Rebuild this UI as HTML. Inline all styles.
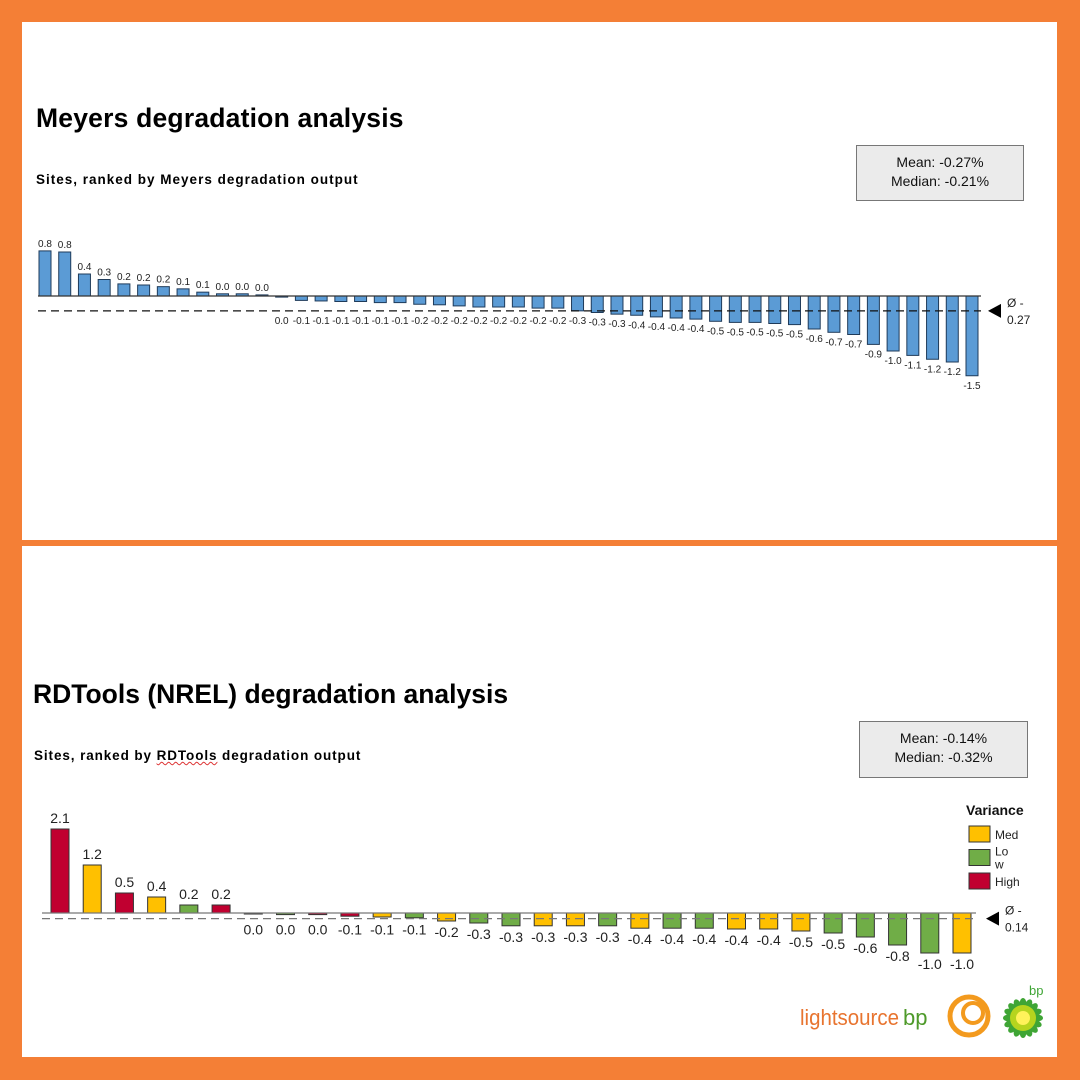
<!DOCTYPE html>
<html><head><meta charset="utf-8">
<style>
body{margin:0;background:#F47F36;font-family:"Liberation Sans",sans-serif;}
#wrap{position:relative;width:1080px;height:1080px;background:#F47F36;overflow:hidden}
.panel{position:absolute;left:22px;width:1035px;background:#fff}
.title{position:absolute;font-weight:bold;color:#000;font-size:26.5px;white-space:nowrap}
.sub{position:absolute;font-weight:bold;color:#000;font-size:13.5px;white-space:nowrap}
.stat{position:absolute;background:#ebebeb;border:1px solid #777;font-size:14px;text-align:center;line-height:19px;color:#111;box-sizing:border-box;padding-top:7px}
svg{position:absolute;left:0;top:0}
</style></head>
<body>
<div id="wrap">
<div class="panel" style="top:22px;height:518px"></div>
<div class="panel" style="top:546px;height:511px"></div>
<div class="title" style="left:36px;top:103px;letter-spacing:0.2px">Meyers degradation analysis</div>
<div class="sub" style="left:36px;top:172px;letter-spacing:1px">Sites, ranked by Meyers degradation output</div>
<div class="stat" style="left:856px;top:145px;width:168px;height:56px">Mean: -0.27%<br>Median: -0.21%</div>
<div class="title" style="left:33px;top:679px;letter-spacing:0px">RDTools (NREL) degradation analysis</div>
<div class="sub" style="left:34px;top:748px;letter-spacing:0.9px">Sites, ranked by <span style="text-decoration:underline wavy #d33;text-decoration-thickness:1px">RDTools</span> degradation output</div>
<div class="stat" style="left:859px;top:721px;width:169px;height:57px">Mean: -0.14%<br>Median: -0.32%</div>
<svg id="chart" width="1080" height="1080"></svg>
</div>
<script>
const topValues=[0.82,0.80,0.40,0.30,0.22,0.20,0.17,0.13,0.07,0.04,0.04,0.02,-0.02,-0.08,-0.09,-0.10,-0.10,-0.12,-0.12,-0.15,-0.16,-0.18,-0.2,-0.2,-0.2,-0.22,-0.22,-0.27,-0.3,-0.33,-0.35,-0.38,-0.4,-0.42,-0.46,-0.48,-0.48,-0.5,-0.52,-0.6,-0.66,-0.7,-0.88,-1.0,-1.08,-1.15,-1.2,-1.45];
const topLabels=["0.8","0.8","0.4","0.3","0.2","0.2","0.2","0.1","0.1","0.0","0.0","0.0","0.0","-0.1","-0.1","-0.1","-0.1","-0.1","-0.1","-0.2","-0.2","-0.2","-0.2","-0.2","-0.2","-0.2","-0.2","-0.3","-0.3","-0.3","-0.4","-0.4","-0.4","-0.4","-0.5","-0.5","-0.5","-0.5","-0.5","-0.6","-0.7","-0.7","-0.9","-1.0","-1.1","-1.2","-1.2","-1.5"];
const topMean=-0.27;
const botValues=[2.1,1.2,0.5,0.4,0.2,0.2,-0.02,-0.04,-0.04,-0.08,-0.1,-0.12,-0.2,-0.25,-0.32,-0.32,-0.32,-0.32,-0.38,-0.38,-0.38,-0.4,-0.4,-0.45,-0.5,-0.6,-0.8,-1.0,-1.0];
const botLabels=["2.1","1.2","0.5","0.4","0.2","0.2","0.0","0.0","0.0","-0.1","-0.1","-0.1","-0.2","-0.3","-0.3","-0.3","-0.3","-0.3","-0.4","-0.4","-0.4","-0.4","-0.4","-0.5","-0.5","-0.6","-0.8","-1.0","-1.0"];
const botVariance=["High","Med","High","Med","Low","High","Low","Low","High","High","Med","Low","Med","Low","Low","Med","Med","Low","Med","Low","Low","Med","Med","Med","Low","Low","Low","Low","Med"];
const botMean=-0.14;
const legendItems=["Med","Low","High"];

const NS="http://www.w3.org/2000/svg";
const svg=document.getElementById('chart');
function mk(tag,attrs,parent){const e=document.createElementNS(NS,tag);for(const k in attrs)e.setAttribute(k,attrs[k]);(parent||svg).appendChild(e);return e;}
const colors={Med:"#FFC000",Low:"#70AD47",High:"#C00030"};

function drawChart(cfg){
  const n=cfg.values.length;
  const xPos=i=>cfg.x0+i*(cfg.x1-cfg.x0)/(n-1);
  const yPos=v=>cfg.zero-v*cfg.scale;
  const g=mk('g',{});
  
  
  cfg.values.forEach((v,i)=>{
    const cx=xPos(i),y0=yPos(0),y1=yPos(v);
    const r=mk('rect',{x:cx-cfg.bw/2,y:Math.min(y0,y1),width:cfg.bw,height:Math.max(Math.abs(y1-y0),1),fill:cfg.color(i),stroke:cfg.stroke,'stroke-width':1},g);
    
    
    const ly=v>=0?y1-cfg.lab:Math.max(y1,cfg.meanY())+cfg.labBelow;
    const t=mk('text',{x:cx,y:ly,'text-anchor':'middle','font-size':cfg.fs,fill:'#222'},g);
    t.textContent=cfg.labels[i];
    
    
  });
  const ax=mk('line',{x1:cfg.lx0,x2:cfg.lx1,y1:yPos(0),y2:yPos(0),stroke:cfg.axisColor,'stroke-width':1.3},g);
  
  
  const my=yPos(cfg.mean);
  const ml=mk('line',{x1:cfg.lx0,x2:cfg.lx1,y1:my,y2:my,stroke:cfg.dashColor,'stroke-width':1.3,'stroke-dasharray':'8,5'},g);
  
  
  const tri=mk('polygon',{points:`${cfg.ax},${my} ${cfg.ax+13},${my-7} ${cfg.ax+13},${my+7}`,fill:'#000'},g);
  
  
  const t1=mk('text',{x:cfg.ax+19,y:my-4,'font-size':12,fill:'#222'},g);t1.textContent='Ø -';
  
  
  const t2=mk('text',{x:cfg.ax+19,y:my+13,'font-size':12,fill:'#222'},g);t2.textContent=String(Math.abs(cfg.mean));
  
  
}
drawChart({name:'meyers-chart',values:topValues,labels:topLabels,mean:topMean,x0:45,x1:972,zero:296,scale:55,bw:12,
  color:()=>"#5B9BD5",stroke:"#1f3b5a",axisColor:"#333",dashColor:"#111",lx0:38,lx1:981,ax:988,fs:10,lab:4,labBelow:13,
  meanY:function(){return 296-topMean*55;}});
drawChart({name:'rdtools-chart',values:botValues,labels:botLabels,mean:botMean,x0:60,x1:962,zero:913,scale:40,bw:18,
  color:i=>colors[botVariance[i]],stroke:"#333",axisColor:"#777",dashColor:"#777",lx0:42,lx1:976,ax:986,fs:14,lab:6,labBelow:16,
  meanY:function(){return 913-botMean*40;}});

// legend
const lg=mk('g',{});


const lt=mk('text',{x:966,y:815,'font-size':14,'font-weight':'bold',fill:'#111'},lg);lt.textContent='Variance';
legendItems.forEach((k,i)=>{
  const y=826+i*23.5;
  const r=mk('rect',{x:969,y:y,width:21,height:16,fill:colors[k],stroke:'#333'},lg);
  
  
  if(k==="Low"){
    const a=mk('text',{x:995,y:y+6,'font-size':12,fill:'#222'},lg);a.textContent='Lo';
    const b=mk('text',{x:995,y:y+19,'font-size':12,fill:'#222'},lg);b.textContent='w';
  }else{
    const a=mk('text',{x:995,y:y+13,'font-size':12,fill:'#222'},lg);a.textContent=k;
  }
});

// logos
const logo=mk('g',{});


const l1=mk('text',{x:800,y:1025,'font-size':22,fill:'#E8742F',textLength:99,lengthAdjust:'spacingAndGlyphs'},logo);l1.textContent='lightsource';
const l2=mk('text',{x:903,y:1025,'font-size':22,fill:'#4E9A2A'},logo);l2.textContent='bp';
mk('circle',{cx:969,cy:1016,r:19,fill:'none',stroke:'#F39A1E','stroke-width':5},logo);
mk('circle',{cx:973,cy:1013,r:10,fill:'none',stroke:'#F39A1E','stroke-width':4},logo);
for(let k=0;k<16;k++){const a=k*Math.PI/8;mk('ellipse',{cx:1023+Math.cos(a)*14,cy:1018+Math.sin(a)*14,rx:6,ry:3.5,fill:'#3FA535',transform:`rotate(${a*180/Math.PI} ${1023+Math.cos(a)*14} ${1018+Math.sin(a)*14})`},logo);}
mk('circle',{cx:1023,cy:1018,r:13,fill:'#B6D41E'},logo);
mk('circle',{cx:1023,cy:1018,r:7,fill:'#FFF25A'},logo);
const bp=mk('text',{x:1029,y:995,'font-size':13,fill:'#3FA535'},logo);bp.textContent='bp';
</script>
</body></html>
